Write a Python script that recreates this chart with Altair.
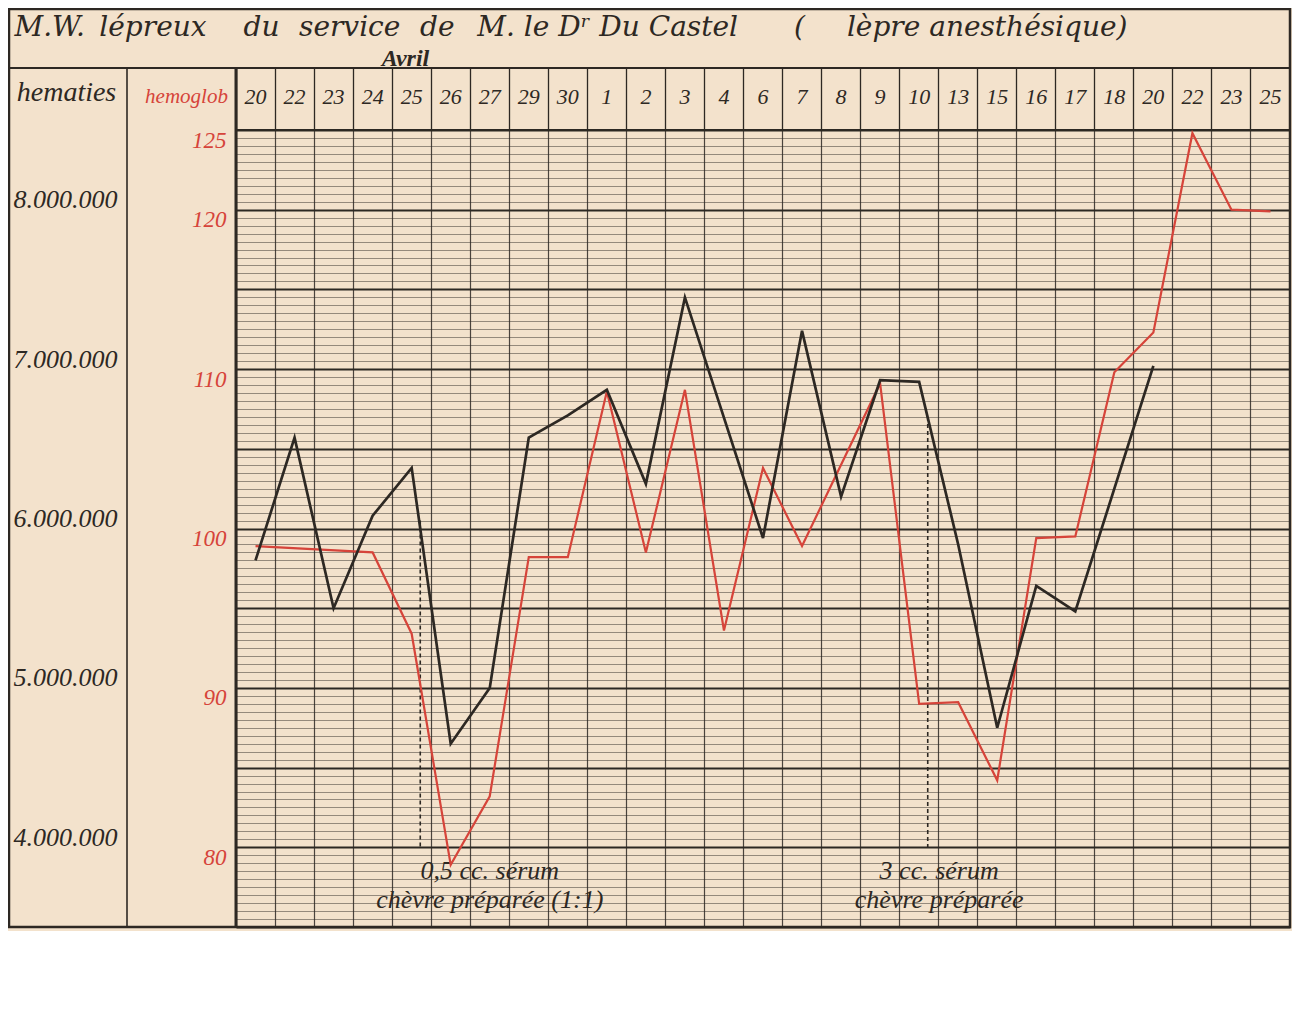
import altair as alt
import pandas as pd

# ---------------- data ----------------
# day columns of the chart (avril, then mai)
days = ["20", "22", "23", "24", "25", "26", "27", "29", "30",
        "1", "2", "3", "4", "6", "7", "8", "9", "10", "13", "15", "16", "17", "18", "20", "22", "23", "25"]
months = ["avril"] * 9 + ["mai"] * 18
cols = [f"{d} {m}" for d, m in zip(days, months)]

# hématies (black curve), red blood cells per mm3
hem_dates = ["20 avril", "22 avril", "23 avril", "24 avril", "25 avril", "26 avril", "27 avril", "29 avril", "30 avril",
             "1 mai", "2 mai", "3 mai", "6 mai", "7 mai", "8 mai", "9 mai", "10 mai", "13 mai", "15 mai", "16 mai",
             "17 mai", "20 mai"]
hem_values = [5800000, 6570000, 5500000, 6080000, 6380000, 4650000, 5000000, 6570000, 6710000,
              6870000, 6280000, 7450000, 5940000, 7240000, 6200000, 6930000, 6920000, 5900000, 4750000, 5640000,
              5480000, 7020000]

# hémoglobine (red curve)
hgb_dates = ["20 avril", "24 avril", "25 avril", "26 avril", "27 avril", "29 avril", "30 avril",
             "1 mai", "2 mai", "3 mai", "4 mai", "6 mai", "7 mai", "9 mai", "10 mai", "13 mai", "15 mai",
             "16 mai", "17 mai", "18 mai", "20 mai", "22 mai", "23 mai", "25 mai"]
hgb_values = [98.9, 98.5, 93.4, 78.9, 83.2, 98.2, 98.2,
              108.6, 98.5, 108.7, 93.6, 103.8, 98.9, 109.1, 89.0, 89.1, 84.2,
              99.4, 99.5, 109.8, 112.3, 124.8, 120.0, 119.9]

# left scales (tick labels)
hgb_ticks = [80, 90, 100, 110, 120, 125]
hem_ticks = [4000000, 5000000, 6000000, 7000000, 8000000]
hem_tick_labels = ["4.000.000", "5.000.000", "6.000.000", "7.000.000", "8.000.000"]

# injections of serum (dashed lines) and their notes
inj_dates = ["25 avril", "10 mai"]
inj_top = [100.5, 107.0]
inj_bottom = [80, 80]
note_dates = ["27 avril", "10 mai"]
note_texts = ["0,5 cc. sérum\nchèvre préparée (1:1)", "3 cc. sérum\nchèvre préparée"]
note_level = [78.0, 78.0]

EN, EM, THIN = "\u2002", "\u2003", "\u2009"
TITLE = ("M.W. " + THIN + "lépreux" + EM + " du" + EN + THIN + "service" + EN + THIN + "de" + EN
         + " M. le D\u02b3 Du Castel" + EM + EM + "(" + EM + EN + "lèpre anesthésique)")

# ---------------- styling ----------------
BG = "#f3e2cc"
INK = "#2d2823"
RED = "#d6443a"
FONT = "Liberation Serif"
TFONT = "DejaVu Serif"
W, H = 1054, 797

# hematies -> hemoglobin-equivalent level (6.000.000 <-> 100, 1.000.000 per 10)
def hem_level(v):
    return 40 + v / 100000

hem_levels = [hem_level(v) for v in hem_ticks]
hem_label_expr = ("[" + ",".join(f"'{s}'" for s in hem_tick_labels) + "][indexof(["
                  + ",".join(str(v) for v in hem_levels) + "], datum.value)]")

xscale = alt.Scale(domain=cols, paddingInner=0, paddingOuter=0)
yscale = alt.Scale(domain=[75, 125], nice=False, zero=False)

minor_vals = [75 + 0.5 * i for i in range(101)]
major_vals = [75 + 5 * i for i in range(11)]

grid_x_axis = alt.Axis(
    orient="top", bandPosition=0, grid=True, gridColor=INK, gridWidth=1.2, gridOpacity=0.85,
    ticks=True, tickSize=62, tickColor=INK, tickWidth=1.3, tickExtra=True, labels=False, domain=False,
    title=TITLE, titleX=-222, titleY=-95, titleAlign="left", titleBaseline="alphabetic", titleAngle=0,
    titleFont=TFONT, titleFontStyle="italic", titleFontWeight="normal", titleFontSize=28, titleColor=INK,
    titleLimit=1400)

label_x_axis = alt.Axis(
    orient="top", grid=False, ticks=False, domain=False, labelFont=FONT, labelFontStyle="italic",
    labelFontSize=22, labelColor=INK, labelPadding=27, labelBaseline="alphabetic", labelAngle=0,
    labelExpr="split(datum.label, ' ')[0]",
    title="Avril", titleX=169, titleY=-65, titleAlign="center", titleBaseline="alphabetic", titleAngle=0,
    titleFont=FONT, titleFontStyle="italic", titleFontWeight="bold", titleFontSize=24, titleColor=INK)

minor_y = alt.Axis(orient="left", values=minor_vals, grid=True, gridColor=INK, gridWidth=0.8,
                   gridOpacity=0.6, labels=False, ticks=False, domain=False, title=None)
major_y = alt.Axis(orient="left", values=major_vals, grid=True, gridColor=INK, gridWidth=2.2,
                   gridOpacity=1, labels=False, ticks=False, domain=False, title=None)
hgb_axis = alt.Axis(
    orient="left", values=hgb_ticks, grid=False, ticks=False, domain=False,
    labelFont=FONT, labelFontStyle="italic", labelFontSize=23, labelColor=RED, labelPadding=10,
    labelOffset=10, labelBaseline="middle", labelAlign="right",
    title="hemoglob", titleAngle=0, titleX=-50, titleY=-28, titleAlign="center", titleBaseline="alphabetic",
    titleFont=FONT, titleFontStyle="italic", titleFontWeight="normal", titleFontSize=21, titleColor=RED)
hem_axis = alt.Axis(
    orient="left", offset=110, values=hem_levels, labelExpr=hem_label_expr, grid=False, ticks=False,
    domain=False, labelFont=FONT, labelFontStyle="italic", labelFontSize=26, labelColor=INK,
    labelPadding=9, labelOffset=-10, labelBaseline="middle", labelAlign="right",
    title="hematies", titleAngle=0, titleX=-60, titleY=-30, titleAlign="center", titleBaseline="alphabetic",
    titleFont=FONT, titleFontStyle="italic", titleFontWeight="normal", titleFontSize=28, titleColor=INK)

# ---------------- data frames ----------------
black_df = pd.DataFrame({"date": hem_dates, "hem": hem_values})
black_df["level"] = black_df["hem"].map(hem_level)
black_df["idx"] = black_df["date"].map(cols.index)

red_df = pd.DataFrame({"date": hgb_dates, "hgb": hgb_values})
red_df["idx"] = red_df["date"].map(cols.index)

inj_df = pd.DataFrame({"date": inj_dates, "top": inj_top, "bottom": inj_bottom})
note_df = pd.DataFrame({"date": note_dates, "text": note_texts, "level": note_level,
                        "k": list(range(len(note_dates)))})
one = pd.DataFrame({"k": [0]})

# ---------------- layers ----------------
frame = alt.Chart(one).mark_rect(fillOpacity=0, stroke=INK, strokeWidth=2.5).encode(
    x=alt.value(-227), x2=alt.value(W), y=alt.value(-121), y2=alt.value(H))
header_line = alt.Chart(one).mark_rule(color=INK, strokeWidth=2).encode(
    x=alt.value(-228), x2=alt.value(W), y=alt.value(-62))
sep1 = alt.Chart(one).mark_rule(color=INK, strokeWidth=1.6).encode(
    x=alt.value(-109), y=alt.value(-62), y2=alt.value(H))
sep2 = alt.Chart(one).mark_rule(color=INK, strokeWidth=3).encode(
    x=alt.value(0), y=alt.value(-62), y2=alt.value(H))

dashed = alt.Chart(inj_df).mark_rule(color=INK, strokeWidth=1.6, strokeDash=[4, 3]).encode(
    x=alt.X("date:N", bandPosition=0.72, scale=xscale, axis=None),
    y=alt.Y("top:Q", scale=yscale, axis=hgb_axis),
    y2="bottom:Q")

note_style = dict(lineBreak="\n", lineHeight=29, font=FONT, fontStyle="italic", fontSize=26,
                  align="center", baseline="alphabetic", color=INK)
note1 = alt.Chart(note_df).transform_filter("datum.k == 0").mark_text(dx=0, **note_style).encode(
    x=alt.X("date:N", scale=xscale, axis=None),
    y=alt.Y("level:Q", scale=yscale, axis=hem_axis),
    text="text:N")
note2 = alt.Chart(note_df).transform_filter("datum.k == 1").mark_text(dx=20, **note_style).encode(
    x=alt.X("date:N", scale=xscale, axis=None),
    y=alt.Y("level:Q", scale=yscale, axis=None),
    text="text:N")

red = alt.Chart(red_df).mark_line(color=RED, strokeWidth=2.2).encode(
    x=alt.X("date:N", scale=xscale, axis=label_x_axis),
    y=alt.Y("hgb:Q", scale=yscale, axis=major_y),
    order="idx:Q")

black = alt.Chart(black_df).mark_line(color=INK, strokeWidth=2.7).encode(
    x=alt.X("date:N", scale=xscale, axis=grid_x_axis),
    y=alt.Y("level:Q", scale=yscale, axis=minor_y),
    order="idx:Q")

chart = alt.layer(frame, header_line, sep1, sep2, dashed, note1, note2, red, black).resolve_scale(
    x="shared", y="shared").resolve_axis(x="independent", y="independent").properties(
    width=W, height=H, background=BG,
    padding={"left": 228, "top": 122, "right": 2, "bottom": 4},
    autosize=alt.AutoSizeParams(type="none")).configure_view(stroke=INK, strokeWidth=2)

chart.save("out.html", embed_options={"renderer": "svg", "actions": False})
